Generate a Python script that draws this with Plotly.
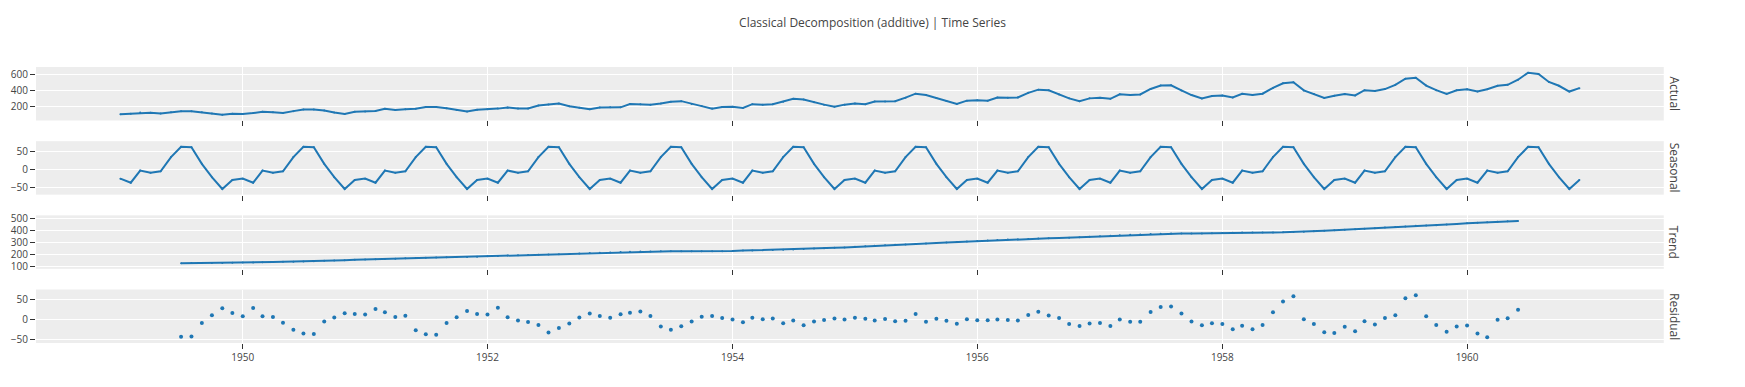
import pandas as pd
import plotly.graph_objects as go
from plotly.subplots import make_subplots

# Monthly periods 1949-01 .. 1960-12
dates = pd.date_range("1949-01-01", "1960-12-01", freq="MS")

actual = [112,118,132,129,121,135,148,148,136,119,104,118,
          115,126,141,135,125,149,170,170,158,133,114,140,
          145,150,178,163,172,178,199,199,184,162,146,166,
          171,180,193,181,183,218,230,242,209,191,172,194,
          196,196,236,235,229,243,264,272,237,211,180,201,
          204,188,235,227,234,264,302,293,259,229,203,229,
          242,233,267,269,270,315,364,347,312,274,237,278,
          284,277,317,313,318,374,413,405,355,306,271,306,
          315,301,356,348,355,422,465,467,404,347,305,336,
          340,318,362,348,363,435,491,505,404,359,310,337,
          360,342,406,396,420,472,548,559,463,407,362,405,
          417,391,419,461,472,535,622,606,508,461,390,432]

seasonal = [-24.75,-36.19,-2.24,-8.04,-4.51,35.40,63.83,62.82,16.52,-20.64,-53.59,-28.62,
            -24.75,-36.19,-2.24,-8.04,-4.51,35.40,63.83,62.82,16.52,-20.64,-53.59,-28.62,
            -24.75,-36.19,-2.24,-8.04,-4.51,35.40,63.83,62.82,16.52,-20.64,-53.59,-28.62,
            -24.75,-36.19,-2.24,-8.04,-4.51,35.40,63.83,62.82,16.52,-20.64,-53.59,-28.62,
            -24.75,-36.19,-2.24,-8.04,-4.51,35.40,63.83,62.82,16.52,-20.64,-53.59,-28.62,
            -24.75,-36.19,-2.24,-8.04,-4.51,35.40,63.83,62.82,16.52,-20.64,-53.59,-28.62,
            -24.75,-36.19,-2.24,-8.04,-4.51,35.40,63.83,62.82,16.52,-20.64,-53.59,-28.62,
            -24.75,-36.19,-2.24,-8.04,-4.51,35.40,63.83,62.82,16.52,-20.64,-53.59,-28.62,
            -24.75,-36.19,-2.24,-8.04,-4.51,35.40,63.83,62.82,16.52,-20.64,-53.59,-28.62,
            -24.75,-36.19,-2.24,-8.04,-4.51,35.40,63.83,62.82,16.52,-20.64,-53.59,-28.62,
            -24.75,-36.19,-2.24,-8.04,-4.51,35.40,63.83,62.82,16.52,-20.64,-53.59,-28.62,
            -24.75,-36.19,-2.24,-8.04,-4.51,35.40,63.83,62.82,16.52,-20.64,-53.59,-28.62]

# Trend and residual defined from 1949-07 to 1960-06
trend = [126.79,127.25,127.96,128.58,129.00,129.75,131.25,133.08,134.92,136.42,137.42,138.75,
         140.92,143.17,145.71,148.42,151.54,154.71,157.12,159.54,161.83,164.12,166.67,169.08,
         171.25,173.58,175.46,176.83,178.04,180.17,183.12,186.21,189.04,191.29,193.58,195.83,
         198.04,199.75,202.21,206.25,210.42,213.38,215.83,218.50,220.92,222.92,224.08,224.71,
         225.33,225.33,224.96,224.58,224.46,225.54,228.00,230.46,232.25,233.92,235.62,237.75,
         240.50,243.96,247.17,250.25,253.50,257.12,261.83,266.67,271.12,275.21,278.50,281.96,
         285.75,289.33,293.25,297.17,301.00,305.46,309.96,314.42,318.62,321.75,324.50,327.08,
         329.54,331.83,334.46,337.54,340.54,344.08,348.25,353.00,357.62,361.38,364.50,367.17,
         369.46,371.21,372.17,372.42,372.75,373.62,375.25,377.92,379.50,380.00,380.71,380.96,
         381.83,383.67,386.50,390.33,394.71,398.62,402.54,407.17,411.88,416.33,420.50,425.50,
         430.71,435.12,437.71,440.96,445.83,450.62,456.33,461.38,465.21,469.33,472.75,475.04]

residual = [-42.62,-42.07,-8.48,11.06,28.59,16.87,8.50,29.10,8.32,6.62,-7.91,-25.15,
            -34.75,-35.99,-4.23,5.23,16.05,13.91,12.62,26.65,18.41,6.91,9.84,-26.49,
            -36.08,-37.41,-7.98,5.81,21.55,14.45,12.62,29.98,6.20,-2.26,-6.08,-13.24,
            -31.87,-20.57,-9.73,5.39,15.18,9.24,4.92,13.69,17.32,20.12,9.42,-17.11,
            -25.16,-16.16,-4.48,7.06,9.14,4.08,0.75,-6.27,4.99,1.12,2.88,-9.15,
            -2.33,-13.78,-4.69,-0.61,3.09,0.49,4.92,2.52,-1.88,1.83,-3.99,-2.36,
            14.42,-5.16,2.23,-2.52,-10.41,1.16,-1.21,-1.23,0.62,-0.71,-1.99,11.51,
            19.63,10.34,4.02,-10.90,-15.95,-9.46,-8.50,-15.81,0.62,-5.34,-4.99,19.43,
            31.71,32.97,15.31,-4.77,-14.16,-9.01,-10.50,-23.73,-15.26,-23.96,-13.20,18.64,
            45.34,58.51,0.98,-10.69,-31.11,-33.01,-17.79,-28.98,-3.63,-12.30,4.01,11.10,
            53.46,61.05,8.77,-13.32,-30.24,-17.01,-14.58,-34.19,-43.97,-0.30,3.76,24.56]

row_names = ["Actual", "Seasonal", "Trend", "Residual"]
title_text = "Classical Decomposition (additive) | Time Series"

COLOR = "#1f77b4"
mid_dates = dates[6:-6]

fig = make_subplots(rows=4, cols=1, shared_xaxes=True, vertical_spacing=0.075,
                    row_titles=row_names)

fig.add_trace(go.Scatter(x=dates, y=actual, mode="lines+markers",
                         line=dict(color=COLOR, width=2), marker=dict(size=2),
                         name="Actual"), row=1, col=1)
fig.add_trace(go.Scatter(x=dates, y=seasonal, mode="lines+markers",
                         line=dict(color=COLOR, width=2), marker=dict(size=2),
                         name="Seasonal"), row=2, col=1)
fig.add_trace(go.Scatter(x=mid_dates, y=trend, mode="lines+markers",
                         line=dict(color=COLOR, width=2), marker=dict(size=2),
                         name="Trend"), row=3, col=1)
fig.add_trace(go.Scatter(x=mid_dates, y=residual, mode="markers",
                         marker=dict(color=COLOR, size=4),
                         name="Residual"), row=4, col=1)

fig.update_layout(
    template="ggplot2",
    showlegend=False,
    autosize=False,
    width=1729, height=371,
    title=dict(text=title_text, x=0.5, xanchor="center", y=0.96, yanchor="middle",
               font=dict(family="Open Sans", size=12, color="#444")),
    font=dict(family="Open Sans", size=10, color="#444"),
    margin=dict(l=28, r=40, t=59, b=36, autoexpand=False),
)
fig.update_xaxes(tickfont=dict(size=10), ticklen=5, automargin=False)
fig.update_yaxes(tickfont=dict(size=10), ticklen=5, automargin=False)
for ann in fig.layout.annotations:
    ann.font = dict(family="Open Sans", size=12, color="#444")

fig.write_html("out.html")
